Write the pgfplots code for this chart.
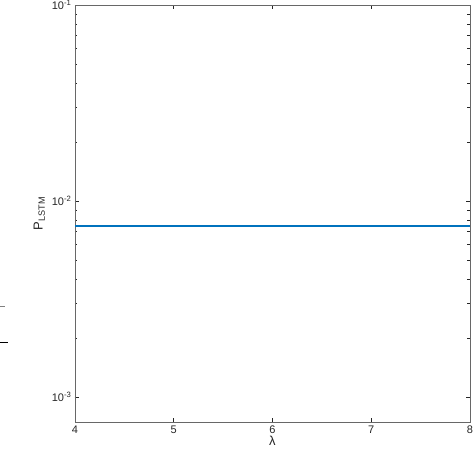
\documentclass[border=0pt]{standalone}
\usepackage{pgfplots}
\pgfplotsset{compat=1.18}
\usepackage{fontspec}
\setmainfont{Liberation Sans}
\definecolor{mblue}{RGB}{0,114,189}
\definecolor{axgray}{rgb}{0.15,0.15,0.15}
\begin{document}
\begin{tikzpicture}
\useasboundingbox (-75pt,-34pt) rectangle (399pt,422pt);
\begin{axis}[
  at={(0,0)}, anchor=south west,
  scale only axis, width=395pt, height=417pt,
  ymode=log, xmin=4, xmax=8, ymin=7.45e-4, ymax=0.1,
  xtick={4,5,6,7,8},
  ytick={0.001,0.01,0.1},
  yticklabels={10\textsuperscript{-3},10\textsuperscript{-2},10\textsuperscript{-1}},
  /pgf/number format/assume math mode=true,
  tick label style={font=\fontsize{11}{13}\selectfont, color=axgray},
  tick align=inside,
  major tick length=4pt, minor tick length=2.5pt,
  axis line style={color=axgray!70, line width=0.6pt},
  every tick/.append style={color=axgray, line width=0.5pt},
  xlabel={λ}, ylabel={P\textsubscript{LSTM}},
  label style={font=\fontsize{13}{15}\selectfont, color=axgray},
  xlabel style={yshift=4pt},
  ylabel style={yshift=0pt},
]
\addplot[color=mblue, line width=2pt, mark=none] coordinates {(4,7.48e-3) (5,7.48e-3) (6,7.48e-3) (7,7.48e-3) (8,7.48e-3)};
\end{axis}
\draw[gray, line width=0.6pt] (-75pt,116pt) -- (-70pt,116pt);
\draw[black, line width=1pt] (-75pt,80pt) -- (-67pt,80pt);
\end{tikzpicture}
\end{document}
